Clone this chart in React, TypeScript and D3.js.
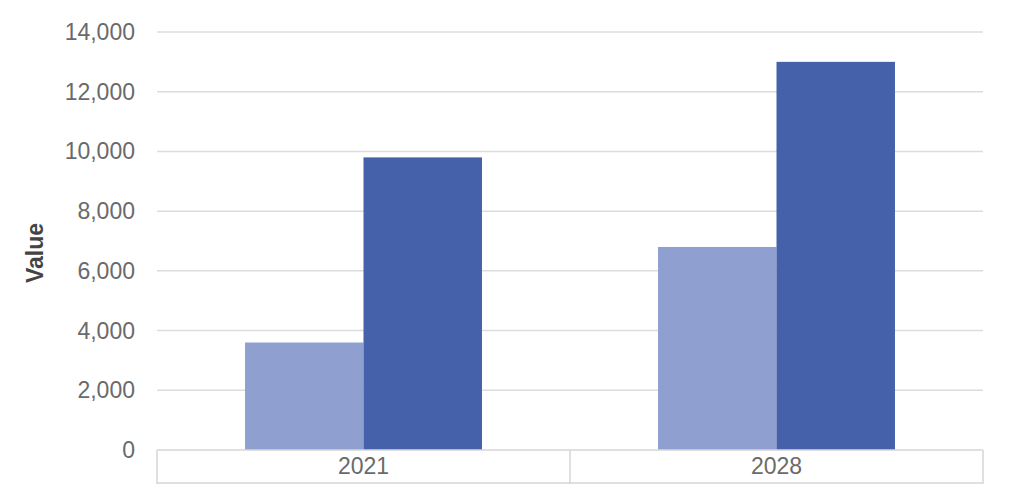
import { useEffect, useRef } from 'react';
import * as d3 from 'd3';

const years = ['2021', '2028'];
const seriesNames = ['Series A', 'Series B'];
const seriesA = [3600, 6800];
const seriesB = [9800, 13000];
const yTicks = [0, 2000, 4000, 6000, 8000, 10000, 12000, 14000];

const colors = ['#8f9fd0', '#4461a9'];

export default function App() {
  const svgRef = useRef<SVGSVGElement>(null);
  const width = 1024;
  const height = 484;

  useEffect(() => {
    if (!svgRef.current) return;
    const svg = d3.select(svgRef.current);
    svg.selectAll('*').remove();

    const left = 157;
    const right = 983;
    const top = 32;
    const bottom = 450;

    const x = d3.scaleBand<string>().domain(years).range([left, right]).padding(0);
    const xSub = d3.scaleBand<string>()
      .domain(seriesNames)
      .range([0, x.bandwidth()])
      .paddingInner(0)
      .paddingOuter(0.743);
    const y = d3.scaleLinear().domain([0, 14000]).range([bottom, top]);

    const font = '"Liberation Sans", Arial, sans-serif';

    // Gridlines
    svg.append('g')
      .selectAll('line')
      .data(yTicks.filter(t => t > 0))
      .join('line')
      .attr('x1', left)
      .attr('x2', right)
      .attr('y1', d => y(d))
      .attr('y2', d => y(d))
      .attr('stroke', '#dcdcdc')
      .attr('stroke-width', 1.5);

    // Y tick labels
    svg.append('g')
      .selectAll('text')
      .data(yTicks)
      .join('text')
      .attr('x', 135)
      .attr('y', d => y(d))
      .attr('dy', '0.35em')
      .attr('text-anchor', 'end')
      .attr('font-family', font)
      .attr('font-size', '23px')
      .attr('fill', '#6a6a6a')
      .text(d => d3.format(',')(d));

    // Bars
    const rows = years.map((yr, i) => ({ year: yr, values: [seriesA[i], seriesB[i]] }));
    svg.append('g')
      .selectAll('g')
      .data(rows)
      .join('g')
      .attr('transform', d => `translate(${x(d.year)},0)`)
      .selectAll('rect')
      .data(d => d.values.map((v, j) => ({ name: seriesNames[j], value: v, j })))
      .join('rect')
      .attr('x', d => xSub(d.name) || 0)
      .attr('width', xSub.bandwidth())
      .attr('y', d => y(d.value))
      .attr('height', d => bottom - y(d.value))
      .attr('fill', d => colors[d.j]);

    // Category box
    const box = svg.append('g').attr('stroke', '#d6d6d6').attr('stroke-width', 1.5).attr('fill', 'none');
    box.append('line').attr('x1', left).attr('x2', right).attr('y1', bottom).attr('y2', bottom);
    box.append('line').attr('x1', left).attr('x2', right).attr('y1', 483).attr('y2', 483);
    [left, ...years.map(yr => (x(yr) || 0) + x.bandwidth())].forEach(px => {
      box.append('line').attr('x1', px).attr('x2', px).attr('y1', bottom).attr('y2', 484);
    });

    svg.append('g')
      .selectAll('text')
      .data(years)
      .join('text')
      .attr('x', d => (x(d) || 0) + x.bandwidth() / 2)
      .attr('y', 466)
      .attr('dy', '0.35em')
      .attr('text-anchor', 'middle')
      .attr('font-family', font)
      .attr('font-size', '23px')
      .attr('fill', '#6a6a6a')
      .text(d => d);

    // Y axis title
    svg.append('text')
      .attr('transform', 'rotate(-90)')
      .attr('x', -253)
      .attr('y', 35)
      .attr('dy', '0.35em')
      .attr('text-anchor', 'middle')
      .attr('font-family', font)
      .attr('font-size', '23px')
      .attr('font-weight', 'bold')
      .attr('fill', '#444')
      .text('Value');
  }, []);

  return (
    <svg
      ref={svgRef}
      width={width}
      height={height}
      style={{ position: 'absolute', left: 0, top: 0, background: '#fff' }}
    />
  );
}
